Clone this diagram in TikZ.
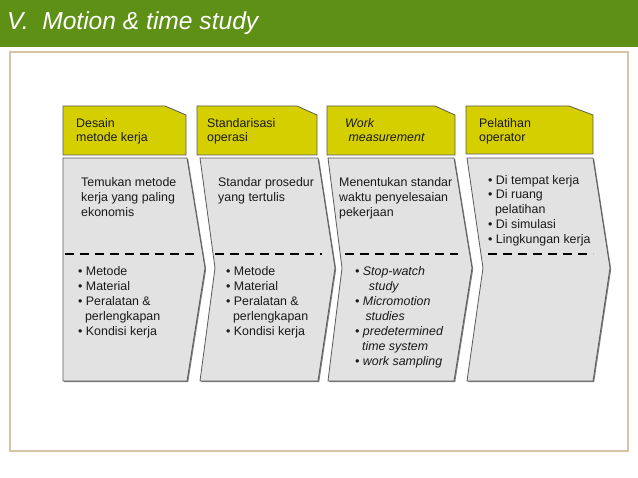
\documentclass[tikz,border=0pt]{standalone}
\usepackage{fontspec}
\setmainfont{Liberation Sans}
\definecolor{hdr}{HTML}{5E9016}
\definecolor{frm}{HTML}{D8C4A4}
\definecolor{ylw}{HTML}{D6CF00}
\definecolor{gry}{HTML}{E2E2E2}
\definecolor{edg}{HTML}{5A5A5A}
\begin{document}
\begin{tikzpicture}[x=1pt,y=-1pt,
 ybox/.style={fill=ylw, draw=edg, line width=0.8pt},
 chev/.style={fill=gry, draw=edg, line width=0.8pt},
 shad/.style={fill=black!50, draw=none},
 dsh/.style={line width=2pt, dash pattern=on 9pt off 6pt},
 txt/.style={anchor=north west, align=left, inner sep=0pt, font=\fontsize{12.4}{15}\selectfont, text=black!90},
 ttl/.style={anchor=north west, align=left, inner sep=0pt, font=\fontsize{12.4}{14.5}\selectfont, text=black!90},
]
\useasboundingbox (0,0) rectangle (638,478);
\fill[hdr] (0,0) rectangle (638,47);
\node[anchor=west, text=white, font=\fontsize{24.6}{28}\selectfont\itshape, inner sep=0pt] (title) at (7,23) {V.\ \ Motion \& time study};
\draw[frm, line width=1.2pt] (10,52) rectangle (628,451);
% yellow headers
\path[ybox] (63,106) -- (165,106) -- (186,115) -- (186,155) -- (63,155) -- cycle;
\path[ybox] (197,106) -- (297,106) -- (317,115) -- (317,155) -- (197,155) -- cycle;
\path[ybox] (327,106) -- (435,106) -- (455,115) -- (455,155) -- (327,155) -- cycle;
\path[ybox] (466,106) -- (569,106) -- (593,115) -- (593,154) -- (466,154) -- cycle;
% chevron shadows
\begin{scope}[shift={(1.2,1.2)}]
\path[shad] (63,158) -- (187,158) -- (205,268) -- (187,381) -- (63,381) -- cycle;
\path[shad] (200,158) -- (318,158) -- (335,268) -- (318,381) -- (200,381) -- (215,268) -- cycle;
\path[shad] (328,158) -- (454,158) -- (472,268) -- (454,381) -- (328,381) -- (342,268) -- cycle;
\path[shad] (467,158) -- (593,158) -- (610,268) -- (593,381) -- (467,381) -- (483,268) -- cycle;
\end{scope}
% chevrons
\path[chev] (63,158) -- (187,158) -- (205,268) -- (187,381) -- (63,381) -- cycle;
\path[chev] (200,158) -- (318,158) -- (335,268) -- (318,381) -- (200,381) -- (215,268) -- cycle;
\path[chev] (328,158) -- (454,158) -- (472,268) -- (454,381) -- (328,381) -- (342,268) -- cycle;
\path[chev] (467,158) -- (593,158) -- (610,268) -- (593,381) -- (467,381) -- (483,268) -- cycle;
% dashed dividers
\draw[dsh] (65,254) -- (198,254);
\draw[dsh] (215,254) -- (322,254);
\draw[dsh] (345,254) -- (458,254);
\draw[dsh] (488,254) -- (593,254);
% header texts
\node[ttl] (h1) at (76,118) {Desain\\metode kerja};
\node[ttl] (h2) at (207,118) {Standarisasi\\operasi};
\node[ttl, font=\fontsize{12.4}{14.5}\selectfont\itshape] (h3) at (345,118) {Work\\\ measurement};
\node[ttl] (h4) at (479,118) {Pelatihan\\operator};
% upper texts
\node[txt] (u1) at (81,177) {Temukan metode\\kerja yang paling\\ekonomis};
\node[txt] (u2) at (218,177) {Standar prosedur\\yang tertulis};
\node[txt] (u3) at (339,177) {Menentukan standar\\waktu penyelesaian\\pekerjaan};
\node[txt, font=\fontsize{12.4}{14.8}\selectfont] (u4) at (488,175) {• Di tempat kerja\\• Di ruang\\\ \ pelatihan\\• Di simulasi\\• Lingkungan kerja};
% lower texts
\node[txt] (l1) at (78,266) {• Metode\\• Material\\• Peralatan \&\\\ \ perlengkapan\\• Kondisi kerja};
\node[txt] (l2) at (226,266) {• Metode\\• Material\\• Peralatan \&\\\ \ perlengkapan\\• Kondisi kerja};
\node[txt, font=\fontsize{12.4}{15}\selectfont\itshape] (l3) at (355,266) {• Stop-watch\\\ \ \ \ study\\• Micromotion\\\ \ \ studies\\• predetermined\\\ \ time system\\• work sampling};
\end{tikzpicture}
\end{document}
